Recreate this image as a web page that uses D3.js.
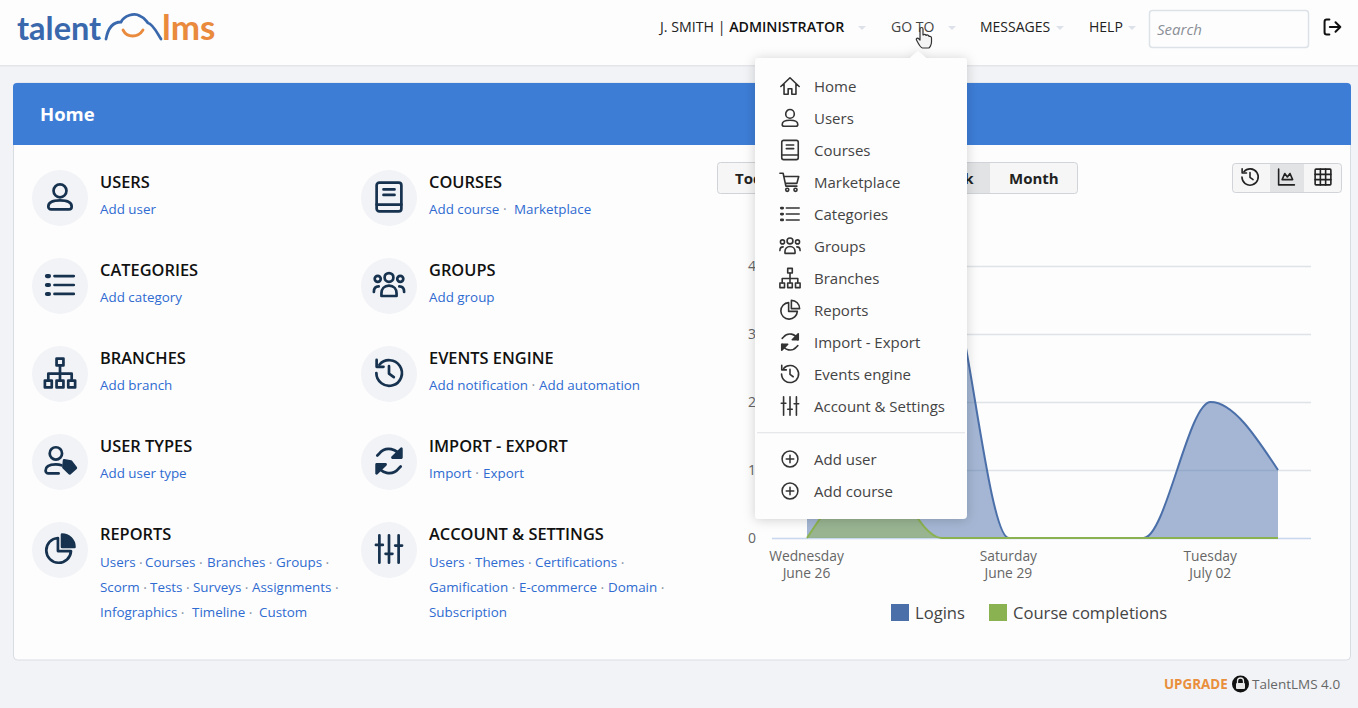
<!DOCTYPE html>
<html><head><meta charset="utf-8">
<script src="https://cdn.jsdelivr.net/npm/d3@7"></script>
<style>html,body{margin:0;padding:0;background:#f2f3f6;overflow:hidden}svg{display:block}text{font-family:"Open Sans",sans-serif}</style>
</head><body><div id="c"></div>
<script>
// ---- chart data ----
const days = ["Wednesday|June 26","Thursday|June 27","Friday|June 28","Saturday|June 29","Sunday|June 30","Monday|July 01","Tuesday|July 02","Wednesday|July 03"];
const shownDays = ["Wednesday|June 26","Saturday|June 29","Tuesday|July 02"];
const logins = [2,1,4,0,0,0,2,1];
const completions = [0,1,0,0,0,0,0,0];
const yTicks = [0,1,2,3,4];
const seriesNames = ["Logins","Course completions"];
const seriesColors = ["#4b6fa9","#8bb250"];
// ---- page content ----
const navIcons = ["history","chart","table"];
const menuItems = [["home","Home"],["user","Users"],["book","Courses"],["cart","Marketplace"],["list","Categories"],["groups","Groups"],["branches","Branches"],["pie","Reports"],["sync","Import - Export"],["history","Events engine"],["sliders","Account & Settings"]];
const menuAdds = ["Add user","Add course"];
const tiles = [
 {i:"user",t:"USERS",c:0,r:0,l:[[["Add user",100]]]},
 {i:"list",t:"CATEGORIES",c:0,r:1,l:[[["Add category",100]]]},
 {i:"branches",t:"BRANCHES",c:0,r:2,l:[[["Add branch",100]]]},
 {i:"usertag",t:"USER TYPES",c:0,r:3,l:[[["Add user type",100]]]},
 {i:"piefill",t:"REPORTS",c:0,r:4,l:[[["Users",100],["Courses",145],["Branches",207],["Groups",276],["",0]],[["Scorm",100],["Tests",150],["Surveys",193],["Assignments",252],["",0]],[["Infographics",100],["Timeline",192],["Custom",259]]]},
 {i:"book",t:"COURSES",c:1,r:0,l:[[["Add course",429],["Marketplace",514]]]},
 {i:"groups",t:"GROUPS",c:1,r:1,l:[[["Add group",429]]]},
 {i:"history",t:"EVENTS ENGINE",c:1,r:2,l:[[["Add notification",429],["Add automation",539]]]},
 {i:"sync",t:"IMPORT - EXPORT",c:1,r:3,l:[[["Import",429],["Export",483]]]},
 {i:"sliders",t:"ACCOUNT & SETTINGS",c:1,r:4,l:[[["Users",429],["Themes",475],["Certifications",535],["",0]],[["Gamification",429],["E-commerce",519],["Domain",608],["",0]],[["Subscription",429]]]}
];
const icons = {
 user:'<circle cx="12" cy="7.5" r="4.7"/><path d="M3.5 19c0-3 3.5-4.5 8.500-4.500s8.500 1.500 8.500 4.500a2 2 0 0 1-2 2H5.500a2 2 0 0 1-2-2z"/>',
 usertag:'<circle cx="9" cy="6.500" r="4.500"/><path d="M1.500 19c0-3 3-4.500 7.500-4.500 1.500 0 3 .2 4 .6M11 21H3.500a2 2 0 0 1-2-2"/><path d="M15 11.500l5 1 3.500 4.500-4.500 4-4.500-4.500z" class="f"/>',
 book:'<rect x="3" y="1.500" width="18" height="21" rx="2"/><path d="M8 6.500h8M8 10.500h8M3 17.500h18"/>',
 cart:'<path d="M1 2.500h3.500l3 14h12M5.500 6h16l-2 7.500H7"/><circle cx="9" cy="20.500" r="1.700"/><circle cx="18" cy="20.500" r="1.700"/>',
 list:'<path d="M8 5.500h14M8 12h14M8 18.500h14"/><path d="M2.500 5.500h1.500M2.500 12h1.500M2.500 18.500h1.500" stroke-width="3"/>',
 groups:'<circle cx="12" cy="6.500" r="3.200"/><circle cx="3.800" cy="7.500" r="2.200"/><circle cx="20.200" cy="7.500" r="2.200"/><path d="M6.500 20v-2c0-3 2-5.500 5.500-5.500s5.500 2.500 5.500 5.500v2z"/><path d="M1 17c0-2.500 1-4 3.500-4M23 17c0-2.500-1-4-3.500-4"/>',
 branches:'<rect x="9.500" y="1.500" width="5" height="5"/><rect x="1" y="17.500" width="5" height="5"/><rect x="9.500" y="17.500" width="5" height="5"/><rect x="18" y="17.500" width="5" height="5"/><path d="M12 6.500v11M3.500 17.500v-5h17v5"/>',
 pie:'<path d="M10.500 4a9 9 0 1 0 9.500 9.500h-9.500z"/><path d="M13.500 1.500a9 9 0 0 1 9 9h-9z"/>',
 piefill:'<path d="M10.500 4a9 9 0 1 0 9.500 9.500h-9.500z"/><path d="M13.500 1.500a9 9 0 0 1 9 9h-9z" class="f"/>',
 sync:'<path d="M20.500 9.500A9 9 0 0 0 5 6.500L3.500 8M3.500 14.500A9 9 0 0 0 19 17.500l1.500-1.500"/><path d="M21 3v6.500h-6.500z" class="f"/><path d="M3 21v-6.500h6.500z" class="f"/>',
 history:'<path d="M5 6A9.300 9.300 0 1 1 2.800 12"/><path d="M3 2.500v5h5" /><path d="M12 7v5.500l3.500 2.500"/>',
 sliders:'<path d="M5 2v20M12 2v20M19 2v20M2.500 9h5M9.500 15.500h5M16.500 9.500h5" />',
 plus:'<circle cx="12" cy="12" r="9.500"/><path d="M12 7.500v9M7.500 12h9"/>',
 home:'<path d="M2 12.500 12 3l10 9.500M5.500 10v11h4.500v-6h4v6h4.500V10"/>',
 chart:'<path d="M3 3v18h18"/><path d="M7 15l3-7 3 4 3-4 3 7z"/>',
 table:'<rect x="3" y="3" width="18" height="18" rx="1"/><path d="M3 9h18M3 15h18M9 3v18M15 3v18"/>',
 logout:'<path d="M9 3.500H6a2.500 2.500 0 0 0-2.500 2.500v12A2.500 2.500 0 0 0 6 20.500h3"/><path d="M9.500 12h12M16 6.500l5.500 5.500-5.500 5.500"/>'
};

const W=1358,H=708;
const svg=d3.select("#c").append("svg").attr("width",W).attr("height",H);
const defs=svg.append("defs");
const fl=defs.append("filter").attr("id","sh").attr("x","-20%").attr("y","-20%").attr("width","140%").attr("height","140%");
fl.append("feDropShadow").attr("dx",0).attr("dy",1).attr("stdDeviation",6).attr("flood-color","#000").attr("flood-opacity",.18);

function icon(g,name,cx,cy,size,color,sw){
  const s=size/24;
  const n=g.append("g").attr("transform",`translate(${cx-size/2},${cy-size/2}) scale(${s})`)
    .attr("fill","none").attr("stroke",color).attr("stroke-width",sw/s).attr("stroke-linecap","round").attr("stroke-linejoin","round");
  n.html(icons[name]);
  n.selectAll(".f").attr("fill",color);
  return n;
}
function txt(g,s,x,y,size,color,weight,anchor){
  return g.append("text").attr("x",x).attr("y",y).attr("font-size",size).attr("fill",color)
    .attr("font-weight",weight||400).attr("text-anchor",anchor||"start").attr("dominant-baseline","central").text(s);
}

// page
svg.append("rect").attr("width",W).attr("height",H).attr("fill","#f2f3f6");
svg.append("rect").attr("width",W).attr("height",65).attr("fill","#fdfdfd");
svg.append("rect").attr("y",65).attr("width",W).attr("height",1.5).attr("fill","#e3e5e9");
// card
svg.append("rect").attr("x",13.500).attr("y",83).attr("width",1337).attr("height",577).attr("rx",4).attr("fill","#fdfdfd").attr("stroke","#d8dde4");
svg.append("path").attr("d","M13 145V87a4 4 0 0 1 4-4H1347a4 4 0 0 1 4 4V145z").attr("fill","#3d7dd6");
txt(svg,"Home",40,113,18.500,"#fff",700);

// logo
const logo=svg.append("g");
logo.append("text").attr("x",17).attr("y",40).attr("font-size",32.500).attr("font-weight",700).attr("fill","#3a68ad").style("font-family","Lato").text("talent");
logo.append("text").attr("x",162).attr("y",40).attr("font-size",35).attr("font-weight",700).attr("fill","#e98a3c").style("font-family","Lato").text("lms");
logo.append("path").attr("d","M106 39C108 28 113 22 121 22C124 16 134 12 140 16C145 18 146 21 148 23C153 24 157 33 161 39").attr("fill","none").attr("stroke","#3a68ad").attr("stroke-width",2.800).attr("stroke-linecap","round");
logo.append("path").attr("d","M123 30C127 38 138 38 143 30").attr("fill","none").attr("stroke","#e98a3c").attr("stroke-width",2.800).attr("stroke-linecap","round");

// nav
const nav=svg.append("g");
const nt=nav.append("text").attr("x",660).attr("y",26).attr("font-size",14.200).attr("fill","#222").attr("dominant-baseline","central");
nt.append("tspan").text("J. SMITH | ");
nt.append("tspan").attr("font-weight",600).attr("fill","#111").text("ADMINISTRATOR");
txt(nav,"GO TO",891,26,14,"#444");
txt(nav,"MESSAGES",980,26,14,"#222");
txt(nav,"HELP",1089,26,14,"#222");
[862,952,1060,1132].forEach(x=>nav.append("path").attr("d",`M${x-4} 26h8l-4 4z`).attr("fill","#dde2ea"));
nav.append("rect").attr("x",1149.500).attr("y",10.500).attr("width",159).attr("height",37).attr("rx",3).attr("fill","#fdfdfd").attr("stroke","#dde2e8").attr("stroke-width",1.500);
txt(nav,"Search",1157,29,15,"#8a8f96").attr("font-style","italic");
icon(nav,"logout",1332,27,21,"#111",2);

// tiles
const colX=[60,389],rowY=[198,286,374,462,550];
tiles.forEach(d=>{
  const cx=colX[d.c],cy=rowY[d.r],tx=d.c?429:100;
  svg.append("circle").attr("cx",cx).attr("cy",cy).attr("r",28).attr("fill","#f2f3f6");
  icon(svg,d.i,cx,cy-1,33,"#16324f",2.700);
  txt(svg,d.t,tx,cy-17,16.400,"#111",600);
  d.l.forEach((row,ri)=>{
    const y=d.l.length>1?cy+12+ri*25:cy+10.500;
    row.forEach((w,wi)=>{
      if(!w[0]) return;
      const t=txt(svg,w[0],w[1],y,13.400,"#2f6bd1");
      if(wi<row.length-1){
        const e=w[1]+t.node().getComputedTextLength();
        txt(svg,"·",e+3.500,y,14,"#8a94a3");
      }
    });
  });
});

// range buttons
svg.append("rect").attr("x",717.500).attr("y",162.500).attr("width",360).attr("height",31).attr("rx",3).attr("fill","#f6f6f6").attr("stroke","#d0d3d7");
svg.append("rect").attr("x",925).attr("y",163).attr("width",65).attr("height",30).attr("fill","#e2e3e5");
txt(svg,"Today",735,178,15,"#222",700);
txt(svg,"Week",932,178,15,"#222",700);
txt(svg,"Month",1009,178,15,"#222",700);
// view buttons
svg.append("rect").attr("x",1232.500).attr("y",163.500).attr("width",109).attr("height",29).attr("rx",3).attr("fill","#f6f6f6").attr("stroke","#d0d3d7");
svg.append("rect").attr("x",1270).attr("y",164).attr("width",34).attr("height",28).attr("fill","#e2e3e5");
navIcons.forEach((n,i)=>icon(svg,n,1250+i*36.500,177,21,"#222",1.600));

// ---- chart ----
const x=d3.scalePoint().domain(days).range([807,1278]);
const y=d3.scaleLinear().domain([0,4]).range([538,266]);
const gridG=svg.append("g").attr("transform","translate(772,0)")
  .call(d3.axisLeft(y).tickValues(yTicks).tickSize(-539).tickFormat(d3.format("d")));
gridG.select(".domain").remove();
gridG.selectAll(".tick line").attr("stroke",d=>d===0?"#c7d7ee":"#dfe2e7").attr("stroke-width",1.300);
gridG.selectAll(".tick text").attr("font-size",14).attr("fill","#666").attr("x",-16).attr("dy","0.33em").style("font-family","'Open Sans'");
const xG=svg.append("g").attr("transform","translate(0,538)")
  .call(d3.axisBottom(x).tickValues(shownDays).tickSize(0));
xG.select(".domain").remove();
xG.selectAll(".tick text").each(function(d){
  const t=d3.select(this).text(null).attr("font-size",13.800).attr("fill","#666").style("font-family","'Open Sans'").attr("y",0).attr("dy",null);
  d.split("|").forEach((s,i)=>t.append("tspan").attr("x",-1).attr("y",23+i*17).text(s));
});
const area=d3.area().x((d,i)=>x(days[i])).y0(y(0)).y1(d=>y(d)).curve(d3.curveMonotoneX);
const line=d3.line().x((d,i)=>x(days[i])).y(d=>y(d)).curve(d3.curveMonotoneX);
[logins,completions].forEach((s,i)=>{
  svg.append("path").datum(s).attr("d",area).attr("fill",seriesColors[i]).attr("fill-opacity",.5);
  svg.append("path").datum(s).attr("d",line).attr("fill","none").attr("stroke",seriesColors[i]).attr("stroke-width",2);
});
// legend
const legX=[891,989];
seriesNames.forEach((n,i)=>{
  svg.append("rect").attr("x",legX[i]).attr("y",604).attr("width",18).attr("height",17).attr("fill",seriesColors[i]);
  txt(svg,n,legX[i]+24,612.500,16.600,"#444");
});

// dropdown menu
const menu=svg.append("g");
menu.append("path").attr("d","M755 62a4 4 0 0 1 4-4H910L918 51L926 58H963a4 4 0 0 1 4 4V515a4 4 0 0 1-4 4H759a4 4 0 0 1-4-4z").attr("fill","#fdfdfd").attr("filter","url(#sh)");
menuItems.forEach((d,i)=>{
  const yy=86+i*32;
  icon(menu,d[0],790,yy,22,"#333",1.600);
  txt(menu,d[1],814,yy,15,"#444");
});
menu.append("rect").attr("x",757).attr("y",432).attr("width",208).attr("height",1.300).attr("fill","#e6e8ec");
menuAdds.forEach((d,i)=>{
  const yy=459+i*32;
  icon(menu,"plus",790,yy,20,"#333",1.500);
  txt(menu,d,814,yy,15,"#444");
});

// hand cursor
svg.append("path").attr("d","M920 29c0-2 3-2 3 0v6c1-1 3-1 3 .5 1-1 3-.5 3 1 1-.5 2.500 0 2.500 1.500v4c0 3-2 6-3 6h-6c-1.500 0-5-6-6-8-.8-1.500 1-2.500 2.500-1l1 1z")
  .attr("fill","#f4f4f4").attr("stroke","#333").attr("stroke-width",1.200).attr("stroke-linejoin","round");

// footer
txt(svg,"UPGRADE",1164,684,13.400,"#e98f3c",700);
svg.append("circle").attr("cx",1240.500).attr("cy",684).attr("r",8.500).attr("fill","#111");
svg.append("rect").attr("x",1236).attr("y",683).attr("width",9).attr("height",6).attr("rx",1).attr("fill","#e8e8e8");
svg.append("path").attr("d","M1237.500 683v-2a3 3 0 0 1 6 0v2").attr("fill","none").attr("stroke","#e8e8e8").attr("stroke-width",1.300);
txt(svg,"TalentLMS 4.0",1252,684,13.500,"#666");
</script></body></html>
